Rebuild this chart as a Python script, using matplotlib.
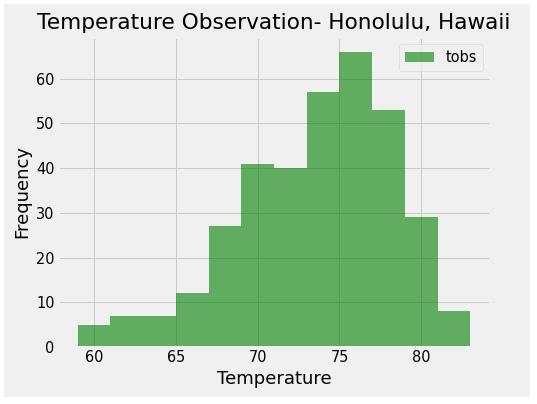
import matplotlib
matplotlib.use("Agg")
import matplotlib.pyplot as plt
from matplotlib.patches import Rectangle

plt.style.use("fivethirtyeight")
plt.rcParams["font.family"] = ["DejaVu Sans"]

bin_edges = [59, 61, 63, 65, 67, 69, 71, 73, 75, 77, 79, 81, 83]
counts = [5, 7, 7, 12, 27, 41, 40, 57, 66, 53, 29, 8]
series_name = "tobs"
title = "Temperature Observation- Honolulu, Hawaii"
xlabel = "Temperature"
ylabel = "Frequency"

fig = plt.figure(figsize=(537/72, 404/72), dpi=72)
fig.patch.set_facecolor("white")
fig.patches.append(Rectangle((4/537, 7/404), 526/537, 393/404, transform=fig.transFigure,
                             facecolor="#f0f0f0", edgecolor="none", zorder=-10))
ax = fig.add_axes([58/537, 1 - 347/404, 432/537, 310/404])
ax.set_facecolor("#f0f0f0")
ax.hist(bin_edges[:-1], bins=bin_edges, weights=counts, color="g", alpha=0.6, label=series_name)
ax.set_title(title, fontsize=21.6, pad=8)
ax.set_xlabel(xlabel, fontsize=18, labelpad=4)
ax.set_ylabel(ylabel, fontsize=18, labelpad=5)
ax.tick_params(labelsize=14.5)
ax.legend(loc="upper right", fontsize=14.5)
fig.savefig("out.png", dpi=72, facecolor="white")
